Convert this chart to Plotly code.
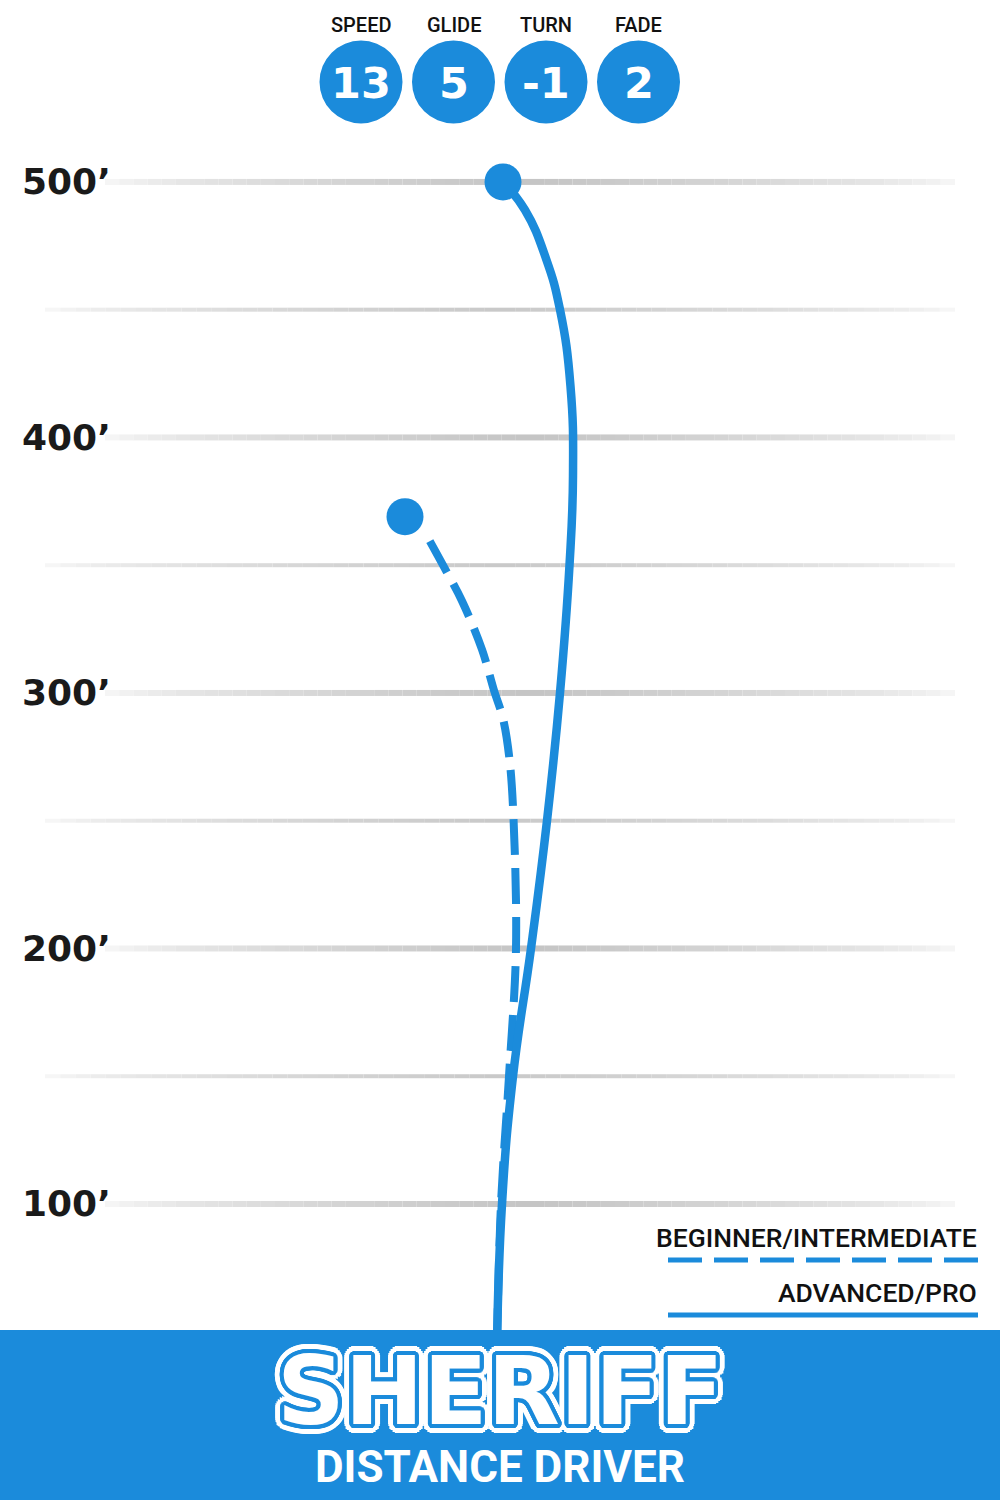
import math
import plotly.graph_objects as go

# ---------------- data ----------------
stat_names = ["SPEED", "GLIDE", "TURN", "FADE"]
stat_values = [13, 5, -1, 2]

major_distances = [100, 200, 300, 400, 500]
major_labels = ["100’", "200’", "300’", "400’", "500’"]
minor_distances = [150, 250, 350, 450]

# Advanced / Pro flight path (distance in ft, lateral offset in ft)
pro_distance = [45, 100, 150, 200, 250, 300, 350, 385, 420, 450, 470, 489, 500]
pro_lateral = [-0.6, 0.4, 2.6, 6.2, 9.4, 12.0, 13.9, 14.6, 14.1, 12.0, 9.2, 5.0, 0.6]

# Beginner / Intermediate flight path
beg_distance = [45, 100, 150, 200, 251, 274, 290, 301, 317, 336, 350, 360, 369]
beg_lateral = [-0.6, 0.2, 1.8, 3.2, 2.7, 1.9, 0.6, -1.2, -3.6, -7.6, -11.4, -14.2, -19.0]

legend_labels = ["BEGINNER/INTERMEDIATE", "ADVANCED/PRO"]
disc_name = "SHERIFF"
disc_type = "DISTANCE DRIVER"

# ---------------- style ----------------
BLUE = "#1B8BDB"
W, H = 1000, 1500


def px_x(p):
    return p / W


def px_y(p):
    return 1 - p / H


fig = go.Figure()

fig.add_trace(go.Scatter(
    x=beg_lateral[:-1], y=beg_distance[:-1], mode="lines",
    line=dict(color=BLUE, width=8, dash="36px,13px", shape="spline", smoothing=1.0),
    hoverinfo="skip"))
fig.add_trace(go.Scatter(
    x=pro_lateral, y=pro_distance, mode="lines",
    line=dict(color=BLUE, width=8.5, shape="spline", smoothing=1.3),
    hoverinfo="skip"))
# end-point dots
fig.add_trace(go.Scatter(
    x=[beg_lateral[-1], pro_lateral[-1]], y=[beg_distance[-1], pro_distance[-1]],
    mode="markers", marker=dict(color=BLUE, size=37, line=dict(width=0)),
    hoverinfo="skip"))

shapes = []
annotations = []


def gradient_line(yval, x0p, x1p, width, dark):
    n = 60
    for i in range(n):
        t0 = i / n
        t1 = (i + 1) / n
        tm = (t0 + t1) / 2
        prof = (1 - abs(2 * tm - 1)) ** 0.6
        g = int(round(250 - (250 - dark) * prof))
        shapes.append(dict(
            type="line", xref="paper", yref="y",
            x0=px_x(x0p + (x1p - x0p) * t0), x1=px_x(x0p + (x1p - x0p) * t1),
            y0=yval, y1=yval, layer="below",
            line=dict(color=f"rgb({g},{g},{g})", width=width)))


for d in minor_distances:
    gradient_line(d, 45, 955, 4, 200)
for d in major_distances:
    gradient_line(d, 105, 955, 6, 196)

for d, lab in zip(major_distances, major_labels):
    annotations.append(dict(
        x=px_x(20), xref="paper", y=d, yref="y", xanchor="left", yanchor="middle",
        text=lab, showarrow=False,
        font=dict(family="DejaVu Sans", size=36, color="#1a1a1a", weight="bold")))

# stat circles
for i, (n, v) in enumerate(zip(stat_names, stat_values)):
    cx = 361 + i * 92.5
    cy = 82
    r = 41.5
    shapes.append(dict(type="circle", xref="paper", yref="paper",
                       x0=px_x(cx - r), x1=px_x(cx + r), y0=px_y(cy + r), y1=px_y(cy - r),
                       fillcolor=BLUE, line=dict(width=0), layer="above"))
    annotations.append(dict(x=px_x(cx), y=px_y(83), xref="paper", yref="paper",
                            text=str(v), showarrow=False, xanchor="center", yanchor="middle",
                            font=dict(family="DejaVu Sans", size=43, color="white", weight="bold")))
    annotations.append(dict(x=px_x(cx), y=px_y(25), xref="paper", yref="paper",
                            text=n, showarrow=False, xanchor="center", yanchor="middle",
                            font=dict(family="Roboto", size=20, color="#111111", weight=500)))

# legend
annotations.append(dict(x=px_x(979), y=px_y(1237), xref="paper", yref="paper",
                        text=legend_labels[0], showarrow=False, xanchor="right", yanchor="middle",
                        font=dict(family="Roboto", size=26.5, color="#111111", weight=500)))
shapes.append(dict(type="line", xref="paper", yref="paper",
                   x0=px_x(668), x1=px_x(978), y0=px_y(1260), y1=px_y(1260),
                   line=dict(color=BLUE, width=5, dash="34px,12px")))
annotations.append(dict(x=px_x(979), y=px_y(1292), xref="paper", yref="paper",
                        text=legend_labels[1], showarrow=False, xanchor="right", yanchor="middle",
                        font=dict(family="Roboto", size=26.5, color="#111111", weight=500)))
shapes.append(dict(type="line", xref="paper", yref="paper",
                   x0=px_x(668), x1=px_x(978), y0=px_y(1315), y1=px_y(1315),
                   line=dict(color=BLUE, width=5)))

# bottom banner
shapes.append(dict(type="rect", xref="paper", yref="paper",
                   x0=0, x1=1, y0=0, y1=px_y(1330),
                   fillcolor=BLUE, line=dict(width=0), layer="above"))

# outline via text-shadow
sh = []
for r, col in [(2, BLUE), (4, BLUE), (6, "white"), (9, "white")]:
    for k in range(24):
        a = 2 * math.pi * k / 24
        sh.append(f"{r*math.cos(a):.1f}px {r*math.sin(a):.1f}px 0 {col}")
shadow = ", ".join(sh)

annotations.append(dict(x=0.5, y=px_y(1391), xref="paper", yref="paper",
                        text=disc_name, showarrow=False, xanchor="center", yanchor="middle",
                        font=dict(family="DejaVu Sans", size=94, color="white", weight="bold",
                                  shadow=shadow)))
annotations.append(dict(x=0.5, y=px_y(1467), xref="paper", yref="paper",
                        text=disc_type, showarrow=False, xanchor="center", yanchor="middle",
                        font=dict(family="Roboto", size=44, color="white", weight="bold")))

fig.update_layout(
    width=W, height=H,
    margin=dict(l=0, r=0, t=0, b=0),
    paper_bgcolor="white", plot_bgcolor="white",
    showlegend=False,
    xaxis=dict(range=[-100, 100], visible=False, fixedrange=True),
    yaxis=dict(range=[-15.85, 571.2], visible=False, fixedrange=True),
    shapes=shapes,
    annotations=annotations,
)

fig.write_html("out.html",
               config={"displayModeBar": False},
               post_script="document.body.style.margin='0';document.body.style.padding='0';")
